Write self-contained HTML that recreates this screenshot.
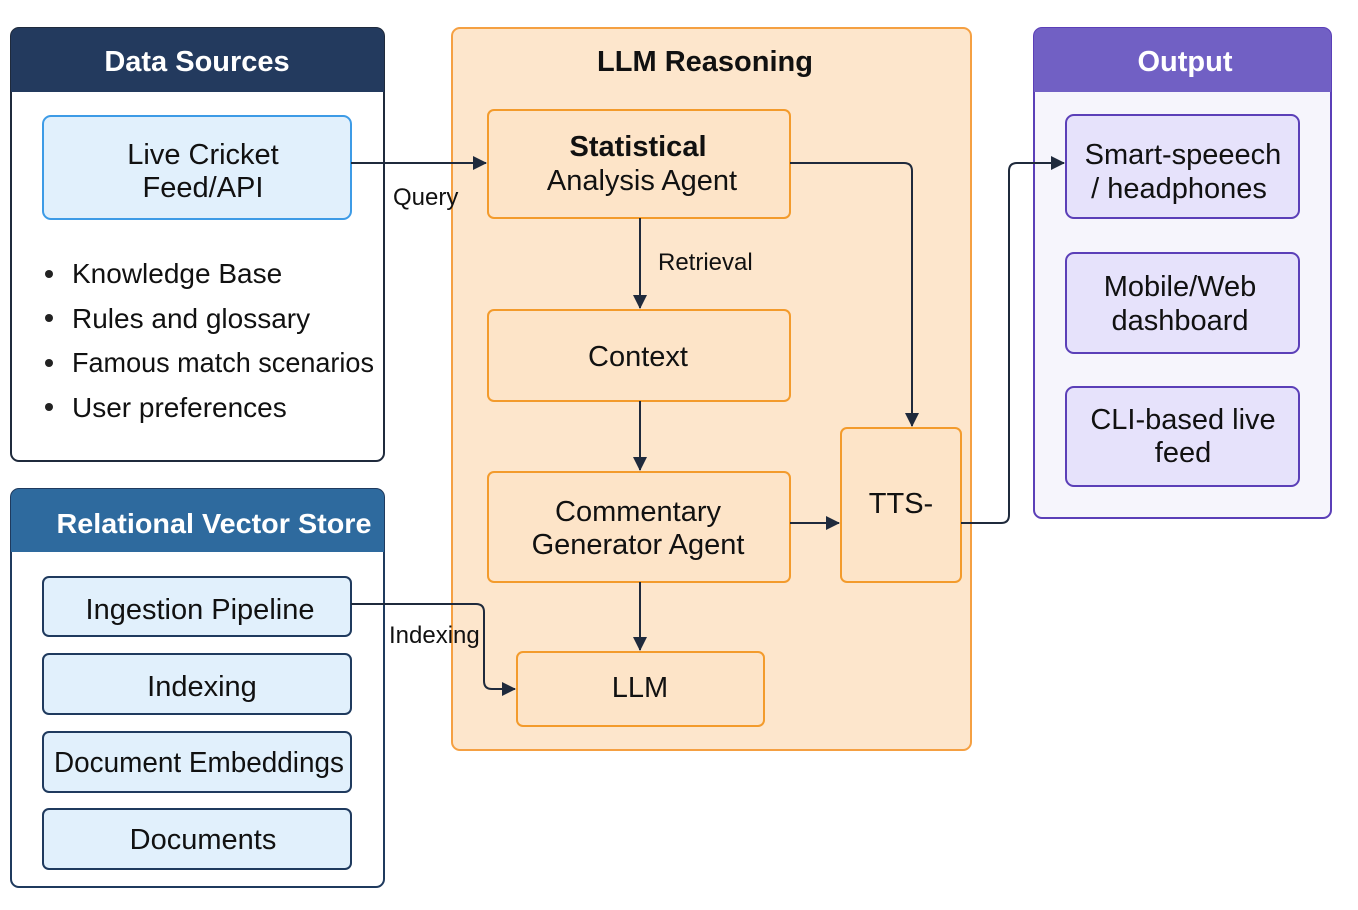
<!DOCTYPE html>
<html><head><meta charset="utf-8"><style>
body{margin:0;background:#fff;}
svg text{font-family:"Liberation Sans","DejaVu Sans",sans-serif;}
</style></head><body>
<svg width="1358" height="905" viewBox="0 0 1358 905" xmlns="http://www.w3.org/2000/svg">
<defs>
<marker id="a" markerWidth="14" markerHeight="14" refX="13" refY="7" orient="auto" markerUnits="userSpaceOnUse" viewBox="0 0 14 14"><path d="M0,0 L14,7 L0,14 z" fill="#1f2a3c"/></marker>
</defs>
<rect width="1358" height="905" fill="#fff"/>
<!-- Data Sources -->
<rect x="11" y="28" width="373" height="433" rx="8" fill="#fff" stroke="#1f2a3c" stroke-width="2"/>
<path d="M11,92 V36 a8,8 0 0 1 8,-8 H376 a8,8 0 0 1 8,8 V92 z" fill="#233a5e"/>
<text x="197" y="71" text-anchor="middle" font-size="29" font-weight="bold" fill="#fff">Data Sources</text>
<rect x="43" y="116" width="308" height="103" rx="8" fill="#e1f0fc" stroke="#3d9be6" stroke-width="2"/>
<text x="203" y="164" text-anchor="middle" font-size="29" fill="#111">Live Cricket</text>
<text x="203" y="197" text-anchor="middle" font-size="29" fill="#111">Feed/API</text>
<g font-size="28" fill="#111">
<circle cx="49" cy="274" r="4" fill="#222"/><text x="72" y="283">Knowledge Base</text>
<circle cx="49" cy="318" r="4" fill="#222"/><text x="72" y="328">Rules and glossary</text>
<circle cx="49" cy="363" r="4" fill="#222"/><text x="72" y="372" textLength="302" lengthAdjust="spacingAndGlyphs">Famous match scenarios</text>
<circle cx="49" cy="407" r="4" fill="#222"/><text x="72" y="417">User preferences</text>
</g>
<!-- RVS -->
<rect x="11" y="489" width="373" height="398" rx="8" fill="#fff" stroke="#1f3a5e" stroke-width="2"/>
<path d="M11,552 V497 a8,8 0 0 1 8,-8 H376 a8,8 0 0 1 8,8 V552 z" fill="#2e6a9e"/>
<text x="214" y="533" text-anchor="middle" font-size="28" font-weight="bold" fill="#fff" textLength="315" lengthAdjust="spacingAndGlyphs">Relational Vector Store</text>
<g fill="#e1f0fc" stroke="#1f3a5e" stroke-width="2">
<rect x="43" y="577" width="308" height="59" rx="6"/>
<rect x="43" y="654" width="308" height="60" rx="6"/>
<rect x="43" y="732" width="308" height="60" rx="6"/>
<rect x="43" y="809" width="308" height="60" rx="6"/>
</g>
<g font-size="29" fill="#111" text-anchor="middle">
<text x="200" y="619">Ingestion Pipeline</text>
<text x="202" y="696">Indexing</text>
<text x="199" y="772" textLength="290" lengthAdjust="spacingAndGlyphs">Document Embeddings</text>
<text x="203" y="849">Documents</text>
</g>
<!-- LLM Reasoning -->
<rect x="452" y="28" width="519" height="722" rx="8" fill="#fde6cc" stroke="#f5a042" stroke-width="2"/>
<text x="705" y="71" text-anchor="middle" font-size="29" font-weight="bold" fill="#111">LLM Reasoning</text>
<g fill="#fde4c8" stroke="#f39b2c" stroke-width="2">
<rect x="488" y="110" width="302" height="108" rx="6"/>
<rect x="488" y="310" width="302" height="91" rx="6"/>
<rect x="488" y="472" width="302" height="110" rx="6"/>
<rect x="517" y="652" width="247" height="74" rx="6"/>
<rect x="841" y="428" width="120" height="154" rx="6"/>
</g>
<g font-size="29" fill="#111" text-anchor="middle">
<text x="638" y="156" font-weight="bold">Statistical</text>
<text x="642" y="190">Analysis Agent</text>
<text x="638" y="366">Context</text>
<text x="638" y="521">Commentary</text>
<text x="638" y="554">Generator Agent</text>
<text x="640" y="697">LLM</text>
<text x="901" y="513">TTS-</text>
</g>
<!-- Output -->
<rect x="1034" y="28" width="297" height="490" rx="8" fill="#f6f5fc" stroke="#5b3fb8" stroke-width="2"/>
<path d="M1034,92 V36 a8,8 0 0 1 8,-8 H1323 a8,8 0 0 1 8,8 V92 z" fill="#7160c4"/>
<text x="1185" y="71" text-anchor="middle" font-size="29" font-weight="bold" fill="#fff">Output</text>
<g fill="#e6e2fb" stroke="#5b3fb8" stroke-width="2">
<rect x="1066" y="115" width="233" height="103" rx="8"/>
<rect x="1066" y="253" width="233" height="100" rx="8"/>
<rect x="1066" y="387" width="233" height="99" rx="8"/>
</g>
<g font-size="29" fill="#111" text-anchor="middle">
<text x="1183" y="164">Smart-speeech</text>
<text x="1179" y="198">/ headphones</text>
<text x="1180" y="296">Mobile/Web</text>
<text x="1180" y="330">dashboard</text>
<text x="1183" y="429">CLI-based live</text>
<text x="1183" y="462">feed</text>
</g>
<!-- connectors -->
<g fill="none" stroke="#1f2a3c" stroke-width="2">
<path d="M351,163 H486" marker-end="url(#a)"/>
<path d="M790,163 H904 q8,0 8,8 V426" marker-end="url(#a)"/>
<path d="M640,218 V308" marker-end="url(#a)"/>
<path d="M640,401 V470" marker-end="url(#a)"/>
<path d="M790,523 H839" marker-end="url(#a)"/>
<path d="M640,582 V650" marker-end="url(#a)"/>
<path d="M351,604 H476 q8,0 8,8 V681 q0,8 8,8 H515" marker-end="url(#a)"/>
<path d="M961,523 H1001 q8,0 8,-8 V171 q0,-8 8,-8 H1064" marker-end="url(#a)"/>
</g>
<g font-size="24" fill="#111">
<text x="393" y="205">Query</text>
<text x="658" y="270">Retrieval</text>
<text x="389" y="643">Indexing</text>
</g>
</svg>
</body></html>
